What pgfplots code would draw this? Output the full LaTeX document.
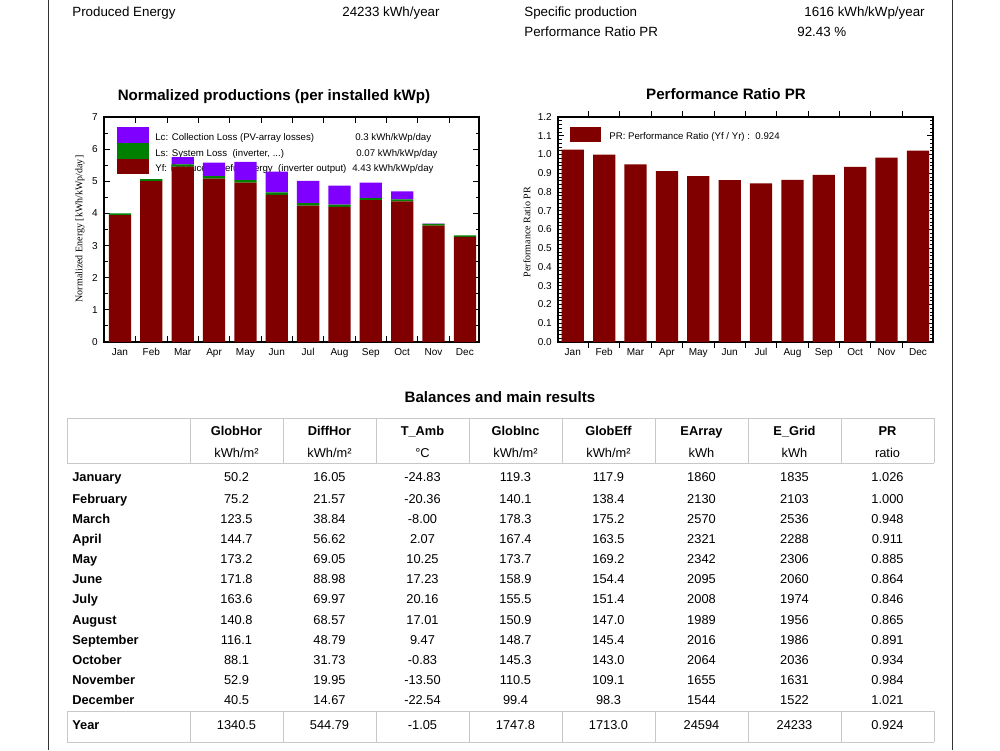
\documentclass[border=0pt]{standalone}
\usepackage{fontspec}
\setmainfont{Liberation Sans}
\newfontfamily\serif{Liberation Serif}
\usepackage{pgfplots}
\pgfplotsset{compat=1.18}

\definecolor{yf}{HTML}{800000}
\definecolor{ls}{HTML}{008000}
\definecolor{lc}{HTML}{8000FF}
\definecolor{tl}{HTML}{C8C8C8}

\newcommand\fa{\fontsize{7.6}{9}\selectfont}
\newcommand\ft{\fontsize{8.6}{10}\selectfont\bfseries}
\newcommand\fl{\fontsize{5.7}{7}\selectfont}
\newcommand\fg{\fontsize{5.5}{7}\selectfont}
\newcommand\fb{\fontsize{7.3}{9}\selectfont}

% normalized productions, kWh/kWp/day
\pgfplotstableread{
m  Yf     Ls     Lc
1  3.946  0.054  0.000
2  5.007  0.064  0.000
3  5.454  0.073  0.225
4  5.084  0.073  0.422
5  4.959  0.077  0.566
6  4.578  0.078  0.641
7  4.245  0.073  0.698
8  4.206  0.071  0.591
9  4.413  0.067  0.477
10 4.378  0.060  0.248
11 3.624  0.053  0.005
12 3.273  0.047  0.000
}\normprod

\pgfplotstableread{
m  PR
1  1.026
2  1.000
3  0.948
4  0.911
5  0.885
6  0.864
7  0.846
8  0.865
9  0.891
10 0.934
11 0.984
12 1.021
}\prdata

\pgfplotsset{pv/.style={
  scale only axis, width=75mm, height=45mm,
  axis line style={line width=0.7pt},
  tick style={black, line width=0.5pt},
  major tick length=1.2mm, minor tick length=0.7mm,
  tick align=inside,
  ticklabel style={font=\fl},
  /pgf/number format/assume math mode=true,
  xtick={1.5,2.5,...,11.5}, xticklabels={},
  extra x ticks={1,...,12},
  extra x tick labels={Jan,Feb,Mar,Apr,May,Jun,Jul,Aug,Sep,Oct,Nov,Dec},
  extra x tick style={major tick length=0pt},
  bar width=0.71,
}}

\begin{document}
\begin{tikzpicture}
\begin{scope}[x=0.2mm,y=-0.2mm, t/.style={inner sep=0, text height=1.2ex, text depth=0.3ex}]
\useasboundingbox (0,0) rectangle (1000,750);
% page frame
\draw[black!80, line width=0.5pt] (48,0)--(48,750) (952,0)--(952,750);

% summary
\node[t, anchor=west, font=\fa] at (72,12) {Produced Energy};
\node[t, anchor=west, font=\fa] at (342,12) {24233 kWh/year};
\node[t, anchor=west, font=\fa] at (524,12) {Specific production};
\node[t, anchor=east, font=\fa] at (925,12) {1616 kWh/kWp/year};
\node[t, anchor=west, font=\fa] at (524,32) {Performance Ratio PR};
\node[t, anchor=west, font=\fa] at (797,32) {92.43 \%};

% titles
\node[t, font=\ft] at (274,96) {Normalized productions (per installed kWp)};
\node[t, font=\ft] at (726,95.5) {Performance Ratio PR};
\node[rotate=90, font=\serif\fl] at (80,229) {Normalized Energy [kWh/kWp/day]};
\node[rotate=90, font=\serif\fl] at (527,232) {Performance Ratio PR};

% legend of the left chart (behind the bars)
\fill[lc] (117,127) rectangle (149,143);
\fill[ls] (117,143) rectangle (149,158.5);
\fill[yf] (117,158.5) rectangle (149,174);
\node[t, anchor=west, font=\fg] at (155,136) {Lc: Collection Loss (PV-array losses)};
\node[t, anchor=west, font=\fg] at (155,152) {Ls: System Loss\ \ (inverter, ...)};
\node[t, anchor=west, font=\fg] at (155,167) {Yf: Produced useful energy\ \ (inverter output)};
\node[t, anchor=west, font=\fg] at (355,136) {0.3 kWh/kWp/day};
\node[t, anchor=west, font=\fg] at (356,152) {0.07 kWh/kWp/day};
\node[t, anchor=west, font=\fg] at (352,167) {4.43 kWh/kWp/day};

% legend of the right chart
\fill[yf] (570,127) rectangle (601,142);
\node[t, anchor=west, font=\fg] at (609,135) {PR: Performance Ratio (Yf / Yr) :\ \ 0.924};

% table
\node[t, font=\ft] at (500,398) {Balances and main results};
\draw[tl, line width=0.5pt] (67,418)--(934,418) (67,463)--(934,463)
  (67,711)--(934,711) (67,742)--(934,742);
\foreach \x in {67,190,283,376,469,562,655,748,841,934}
  \draw[tl, line width=0.5pt] (\x,418)--(\x,463) (\x,711)--(\x,742);
\foreach \h/\u [count=\i] in {GlobHor/{kWh/m²},DiffHor/{kWh/m²},T\_Amb/°C,GlobInc/{kWh/m²},
    GlobEff/{kWh/m²},EArray/kWh,E\_Grid/kWh,PR/ratio}{
  \node[t, font=\fb\bfseries] at (143.5+93*\i,431) {\h};
  \node[t, font=\fb] at (143.5+93*\i,453) {\u};
}
\foreach \y/\n/\a/\b/\c/\d/\e/\f/\g/\k in {
  477/January/50.2/16.05/-24.83/119.3/117.9/1860/1835/1.026,
  499/February/75.2/21.57/-20.36/140.1/138.4/2130/2103/1.000,
  519/March/123.5/38.84/-8.00/178.3/175.2/2570/2536/0.948,
  539/April/144.7/56.62/2.07/167.4/163.5/2321/2288/0.911,
  559/May/173.2/69.05/10.25/173.7/169.2/2342/2306/0.885,
  579/June/171.8/88.98/17.23/158.9/154.4/2095/2060/0.864,
  599/July/163.6/69.97/20.16/155.5/151.4/2008/1974/0.846,
  620/August/140.8/68.57/17.01/150.9/147.0/1989/1956/0.865,
  640/September/116.1/48.79/9.47/148.7/145.4/2016/1986/0.891,
  660/October/88.1/31.73/-0.83/145.3/143.0/2064/2036/0.934,
  680/November/52.9/19.95/-13.50/110.5/109.1/1655/1631/0.984,
  700/December/40.5/14.67/-22.54/99.4/98.3/1544/1522/1.021,
  725/Year/1340.5/544.79/-1.05/1747.8/1713.0/24594/24233/0.924}{
  \node[t, anchor=west, font=\fb\bfseries] at (72,\y) {\n};
  \foreach \v [count=\i] in {\a,\b,\c,\d,\e,\f,\g,\k}
    \node[t, font=\fb] at (143.5+93*\i,\y) {\v};
}
\end{scope}

% left chart
\begin{axis}[pv, at={(20.8mm,-68.4mm)}, anchor=south west,
  ybar stacked, xmin=0.49, xmax=12.45, ymin=0, ymax=7,
  ytick={0,...,7}, minor y tick num=1]
\addplot[fill=yf, draw=none] table[x=m, y=Yf] {\normprod};
\addplot[fill=ls, draw=none] table[x=m, y=Ls] {\normprod};
\addplot[fill=lc, draw=none] table[x=m, y=Lc] {\normprod};
\end{axis}

% right chart
\begin{axis}[pv, at={(111.6mm,-68.4mm)}, anchor=south west,
  ybar, bar shift=0pt, xmin=0.53, xmax=12.48, ymin=0, ymax=1.2,
  ytick distance=0.1, minor y tick num=4,
  yticklabel style={/pgf/number format/.cd, fixed, fixed zerofill, precision=1}]
\addplot[fill=yf, draw=none] table[x=m, y=PR] {\prdata};
\end{axis}
\end{tikzpicture}
\end{document}
